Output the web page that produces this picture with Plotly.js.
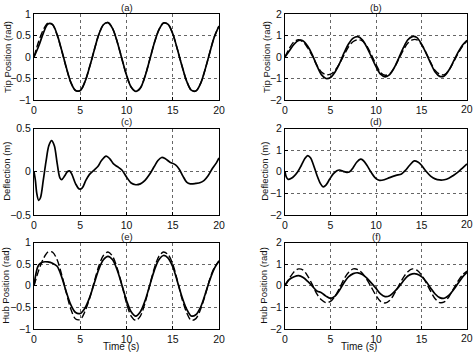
<!DOCTYPE html>
<html>
<head>
<meta charset="utf-8">
<script src="https://cdn.plot.ly/plotly-3.0.1.min.js"></script>
<style>html,body{margin:0;padding:0;background:#fff;overflow:hidden;}#chart{width:474px;height:352px;}</style>
</head>
<body>
<div id="chart"></div>
<script>
// ---- data ----
const tHalf = [0,0.5,1,1.5,2,2.5,3,3.5,4,4.5,5,5.5,6,6.5,7,7.5,8,8.5,9,9.5,10,10.5,11,11.5,12,12.5,13,13.5,14,14.5,15,15.5,16,16.5,17,17.5,18,18.5,19,19.5,20];

const tipA_solid  = [0,0.25,0.55,0.77,0.76,0.52,0.15,-0.25,-0.6,-0.78,-0.78,-0.58,-0.24,0.15,0.52,0.75,0.8,0.66,0.35,-0.04,-0.42,-0.7,-0.8,-0.72,-0.45,-0.07,0.32,0.63,0.79,0.76,0.54,0.18,-0.21,-0.56,-0.77,-0.79,-0.62,-0.29,0.1,0.47,0.72];
const tipA_dashed = [0,0.36,0.63,0.79,0.75,0.51,0.14,-0.26,-0.6,-0.78,-0.78,-0.58,-0.24,0.15,0.52,0.75,0.8,0.66,0.35,-0.04,-0.42,-0.7,-0.8,-0.72,-0.45,-0.07,0.32,0.63,0.79,0.76,0.54,0.18,-0.21,-0.56,-0.77,-0.79,-0.62,-0.29,0.1,0.47,0.72];

const tipB_solid  = [0,0.3,0.6,0.77,0.75,0.5,0.1,-0.4,-0.82,-1.0,-0.95,-0.7,-0.3,0.2,0.62,0.88,0.95,0.8,0.45,0.0,-0.45,-0.8,-0.92,-0.82,-0.5,-0.05,0.42,0.8,0.95,0.9,0.6,0.18,-0.28,-0.7,-0.9,-0.88,-0.62,-0.22,0.2,0.55,0.78];
const tipB_dashed = [0,0.42,0.72,0.8,0.7,0.42,0.05,-0.38,-0.7,-0.82,-0.8,-0.62,-0.3,0.1,0.48,0.72,0.8,0.75,0.5,0.1,-0.35,-0.72,-0.85,-0.78,-0.5,-0.1,0.32,0.65,0.8,0.8,0.58,0.2,-0.25,-0.62,-0.8,-0.82,-0.62,-0.25,0.15,0.5,0.75];

const defC_t = [0,0.15,0.3,0.5,0.7,1.0,1.3,1.6,1.9,2.2,2.5,2.8,3.0,3.3,3.6,3.85,4.1,4.5,4.9,5.2,5.6,6.0,6.5,6.9,7.3,7.8,8.2,8.6,9.0,9.5,10.0,10.5,11.0,11.5,12.0,12.5,13.0,13.4,13.8,14.2,14.7,15.3,15.7,16.1,16.5,16.9,17.5,18.0,18.4,18.8,19.3,19.7,20];
const defC_y = [0,-0.1,-0.25,-0.33,-0.3,-0.1,0.12,0.3,0.36,0.3,0.1,-0.07,-0.09,-0.05,0.0,0.01,-0.03,-0.14,-0.2,-0.19,-0.1,-0.03,0.02,0.06,0.13,0.18,0.15,0.09,0.06,0.02,-0.06,-0.13,-0.15,-0.14,-0.1,-0.03,0.06,0.13,0.165,0.15,0.11,0.08,0.03,-0.05,-0.12,-0.14,-0.135,-0.125,-0.1,-0.05,0.04,0.1,0.16];

const defD_t = [0,0.15,0.35,0.7,1.0,1.4,1.8,2.2,2.5,2.8,3.1,3.5,3.9,4.2,4.5,4.9,5.3,5.7,6.0,6.4,6.8,7.1,7.5,7.9,8.3,8.6,9.0,9.5,10.0,10.4,10.9,11.5,12.2,12.8,13.2,13.7,14.2,14.6,15.0,15.5,16.0,16.5,17.0,17.5,18.0,18.5,19.0,19.5,20];
const defD_y = [0,-0.25,-0.35,-0.3,-0.2,0.0,0.3,0.62,0.75,0.65,0.35,-0.15,-0.55,-0.7,-0.62,-0.35,-0.1,0.05,0.08,0.02,-0.03,0.0,0.2,0.45,0.58,0.52,0.3,-0.05,-0.32,-0.4,-0.37,-0.27,-0.17,-0.1,0.05,0.3,0.5,0.45,0.3,0.02,-0.2,-0.33,-0.38,-0.37,-0.3,-0.17,-0.02,0.17,0.36];

const hubE_solid  = [0,0.48,0.55,0.55,0.52,0.45,0.2,-0.15,-0.45,-0.62,-0.64,-0.52,-0.28,0.05,0.38,0.6,0.68,0.6,0.36,0.02,-0.34,-0.6,-0.7,-0.6,-0.35,0.0,0.35,0.6,0.7,0.64,0.44,0.1,-0.26,-0.54,-0.7,-0.67,-0.5,-0.2,0.13,0.4,0.58];
const hubE_dashed = [0,0.35,0.62,0.78,0.78,0.6,0.25,-0.17,-0.55,-0.77,-0.78,-0.6,-0.3,0.08,0.45,0.7,0.78,0.68,0.4,0.02,-0.4,-0.7,-0.8,-0.7,-0.4,0.0,0.4,0.68,0.78,0.72,0.5,0.12,-0.3,-0.62,-0.8,-0.76,-0.55,-0.22,0.15,0.42,0.56];

const hubF_solid  = [0.03,0.3,0.42,0.47,0.38,0.2,-0.02,-0.24,-0.32,-0.48,-0.58,-0.48,-0.2,0.15,0.42,0.56,0.6,0.52,0.35,0.12,-0.12,-0.38,-0.5,-0.46,-0.28,-0.05,0.22,0.45,0.55,0.54,0.42,0.2,-0.1,-0.38,-0.55,-0.58,-0.45,-0.2,0.1,0.4,0.62];
const hubF_dashed = [0,0.35,0.65,0.78,0.72,0.45,0.05,-0.38,-0.65,-0.78,-0.72,-0.48,-0.1,0.32,0.62,0.78,0.75,0.58,0.28,-0.08,-0.45,-0.72,-0.8,-0.68,-0.38,0.0,0.38,0.65,0.78,0.72,0.5,0.15,-0.25,-0.6,-0.78,-0.75,-0.52,-0.15,0.2,0.5,0.68];

const panelTitles = ['(a)','(b)','(c)','(d)','(e)','(f)'];
const yTitles = ['Tip Position (rad)','Tip Position (rad)','Deflection (m)','Deflection (m)','Hub Position (rad)','Hub Position (rad)'];
const xTitle = 'Time (s)';
const xTicksLeft = [0,5,10,15,20];
const xTicksRight = [0,5,10,15];
const xEndLabel = '20';
const yRanges = [[-1,1],[-2,2],[-0.5,0.5],[-2,2],[-1,1],[-2,2]];
const yTickSets = [[-1,-0.5,0,0.5,1],[-2,-1,0,1,2],[-0.5,0,0.5],[-2,-1,0,1,2],[-1,-0.5,0,0.5,1],[-2,-1,0,1,2]];
const yTickText = [['−1','−0.5','0','0.5','1'],['−2','−1','0','1','2'],['−0.5','0','0.5'],['−2','−1','0','1','2'],['−1','−0.5','0','0.5','1'],['−2','−1','0','1','2']];

// ---- layout ----
const W = 474, H = 352;
const xDom = [[34/W, 219/W],[285/W, 467/W]];
const yDom = [[1-100/H, 1-14/H],[1-215/H, 1-128.5/H],[1-329/H, 1-242.5/H]];
const FONT = 'Liberation Sans, Arial, Helvetica, sans-serif';

const solidLine = {color:'#000', width:1.7, shape:'spline', smoothing:0.9};
const dashLine  = {color:'#000', width:1.4, dash:'7px,3px', shape:'spline', smoothing:0.9};

const traces = [];
function add(i, x, y, line){
  const s = i===0 ? '' : String(i+1);
  traces.push({type:'scatter', mode:'lines', x:x, y:y, xaxis:'x'+s, yaxis:'y'+s, line:line, showlegend:false, hoverinfo:'skip'});
}
add(0, tHalf, tipA_dashed, dashLine);
add(0, tHalf, tipA_solid, solidLine);
add(1, tHalf, tipB_dashed, dashLine);
add(1, tHalf, tipB_solid, solidLine);
add(2, defC_t, defC_y, solidLine);
add(3, defD_t, defD_y, solidLine);
add(4, tHalf, hubE_dashed, dashLine);
add(4, tHalf, hubE_solid, solidLine);
add(5, tHalf, hubF_dashed, dashLine);
add(5, tHalf, hubF_solid, solidLine);

const layout = {
  width: W, height: H,
  margin:{l:0,r:0,t:0,b:0},
  paper_bgcolor:'#fff', plot_bgcolor:'#fff',
  font:{family:FONT, color:'#111', size:11},
  showlegend:false,
  annotations:[]
};
const yTitleX = [[7/W, 266/W],[7/W, 265/W],[6/W, 264/W]];
for (let i=0;i<6;i++){
  const col = i%2, row = Math.floor(i/2);
  const s = i===0 ? '' : String(i+1);
  layout['xaxis'+s] = {
    domain:xDom[col], anchor:'y'+s, range:[0,20], tickvals:(col===0 ? xTicksLeft : xTicksRight),
    showline:true, linecolor:'#000', linewidth:1, mirror:true,
    ticks:'inside', ticklen:3, tickcolor:'#000',
    showgrid:true, gridcolor:'#666', griddash:'dot', gridwidth:1,
    zeroline:false, tickfont:{size:10.5, family:FONT, color:'#111'}, automargin:false
  };
  layout['yaxis'+s] = {
    domain:yDom[row], anchor:'x'+s, range:yRanges[i], tickvals:yTickSets[i], ticktext:yTickText[i],
    showline:true, linecolor:'#000', linewidth:1, mirror:true,
    ticks:'inside', ticklen:3, tickcolor:'#000',
    showgrid:true, gridcolor:'#666', griddash:'dot', gridwidth:1,
    zeroline:false, tickfont:{size:10.5, family:FONT, color:'#111'}, automargin:false
  };
  layout.annotations.push({
    text:panelTitles[i], xref:'paper', yref:'paper',
    x:(xDom[col][0]+xDom[col][1])/2, y:yDom[row][1], xanchor:'center', yanchor:'bottom', yshift:-1,
    showarrow:false, font:{size:9.5, family:FONT, color:'#111'}
  });
  layout.annotations.push({
    text:yTitles[i], xref:'paper', yref:'paper', textangle:-90,
    x:yTitleX[row][col], y:(yDom[row][0]+yDom[row][1])/2, xanchor:'center', yanchor:'middle',
    showarrow:false, font:{size:9.5, family:FONT, color:'#111'}
  });
  // right-column end label "20" at the axis end (placed at the edge of the page as in the original)
  if (col === 1) {
    layout.annotations.push({
      text:xEndLabel, xref:'paper', yref:'paper', x:xDom[1][1], y:yDom[row][0],
      xanchor:'center', yanchor:'top', yshift:-1, showarrow:false,
      font:{size:10.5, family:FONT, color:'#111'}
    });
  }
}
layout.annotations.push({text:xTitle, xref:'paper', yref:'paper', x:121/W, y:0, xanchor:'center', yanchor:'bottom', yshift:-2, showarrow:false, font:{size:10, family:FONT, color:'#111'}});
layout.annotations.push({text:xTitle, xref:'paper', yref:'paper', x:359/W, y:0, xanchor:'center', yanchor:'bottom', yshift:-2, showarrow:false, font:{size:10, family:FONT, color:'#111'}});

Plotly.newPlot('chart', traces, layout, {staticPlot:true, displayModeBar:false});
</script>
</body>
</html>
